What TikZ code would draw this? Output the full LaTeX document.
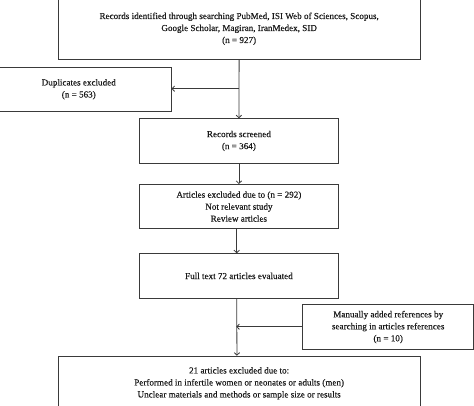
\documentclass[tikz,border=0pt]{standalone}
\usepackage{fontspec}
\setmainfont{Liberation Serif}[BoldFont=Liberation Serif, BoldFeatures={FakeBold=0.35}]
\usetikzlibrary{arrows.meta}
\definecolor{linec}{HTML}{3A3A3A}
\definecolor{textc}{HTML}{1A1A1A}
\tikzset{
  x=1pt,y=1pt,
  boxn/.style={draw=linec, line width=0.8pt, text=textc, font=\fontsize{9.1}{12}\selectfont\bfseries, align=center, inner sep=0pt, anchor=north west},
  conn/.style={draw=linec, line width=0.8pt, -{Straight Barb[length=2.6pt,width=5.5pt]}},
  plain/.style={draw=linec, line width=0.8pt}
}
\begin{document}
\begin{tikzpicture}
\useasboundingbox (0,0) rectangle (474,-405);
\clip (0,0) rectangle (474,-405);
% boxes
\node[boxn, minimum width=362.5, minimum height=60.7] (top) at (57.5,2)
  {Records identified through searching PubMed, ISI Web of Sciences, Scopus,\\ Google Scholar, Magiran, IranMedex, SID\\ (n = 927)};
\node[boxn, minimum width=184.7, minimum height=44.3] (dup) at (-14,-66.7)
  {Duplicates excluded\\ (n = 563)};
\node[boxn, minimum width=198.4, minimum height=44.4] (scr) at (139.3,-118.3)
  {Records screened\\ (n = 364)};
\node[boxn, minimum width=198.4, minimum height=44.3] (art) at (139.3,-184)
  {Articles excluded due to (n = 292)\\ Not relevant study\\ Review articles};
\node[boxn, minimum width=198.4, minimum height=44.4] (full) at (139.3,-253.3)
  {Full text 72 articles evaluated};
\node[boxn, minimum width=171, minimum height=44.7] (man) at (302.3,-304.3)
  {Manually added references by\\ searching in articles references\\ (n = 10)};
\node[boxn, minimum width=362.5, minimum height=54.3] (bot) at (57.5,-355.7)
  {21 articles excluded due to:\\ Performed in infertile women or neonates or adults (men)\\ Unclear materials and methods or sample size or results};
% connectors
\coordinate (j1) at (238.7,-88.7);
\coordinate (j2) at (236.3,-326.7);
\draw[conn] (top.south) -- (scr.north);
\draw[conn] (j1) -- (j1 -| dup.east);
\draw[conn] (scr.south) -- (art.north);
\draw[conn] ([xshift=-2.2pt]art.south) -- ([xshift=-2.2pt]full.north);
\draw[conn] ([xshift=-2.2pt]full.south) -- ([xshift=-2.2pt]bot.north);
\draw[conn] (j2 -| man.west) -- (j2);
\end{tikzpicture}
\end{document}
